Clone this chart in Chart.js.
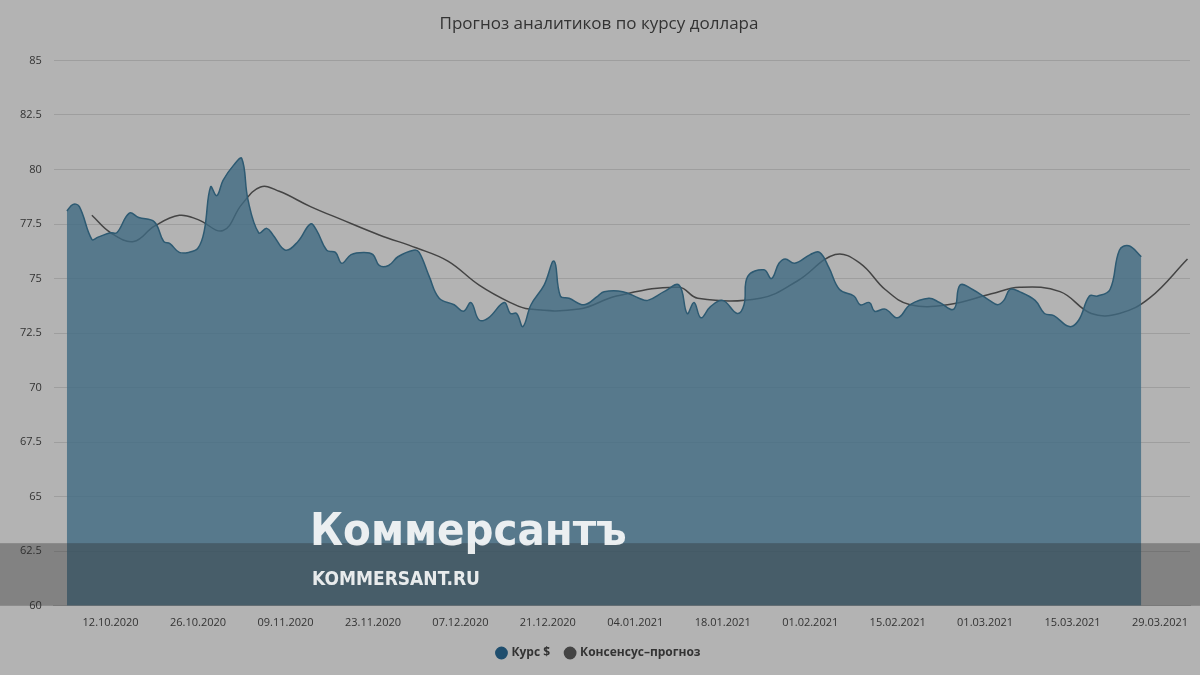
<!DOCTYPE html>
<html><head><meta charset="utf-8">
<script src="https://cdn.jsdelivr.net/npm/chart.js@4"></script>
<style>
html,body{margin:0;padding:0;background:#b3b3b3;}
#wrap{width:1200px;height:675px;position:relative;}
</style></head>
<body><div id="wrap"><canvas id="c" width="1200" height="675"></canvas></div>
<script>
// day offsets from 12.10.2020
const startDate = new Date(2020, 9, 12);
const rateDays = [-7,-6,-5,-3,-2,0,1,3,4.5,7,8.5,9.5,11,12.5,14,15,16,17,18,19.7,21,22,23.7,25,26,28,30,32,33,34.6,36,37,38.5,40.5,42,43,44.5,46,48.5,49.4,51,52.6,55,56.5,57.7,59,60.5,63,64,65,66,67.3,69.4,71,72,73.4,75.8,78,79,82,84.6,86,88.6,91,92.3,93.4,94.5,96,98,100.3,101.4,102,104.6,105.8,107,108,109.5,112,113.5,115,116.7,119,120,121.5,122.3,124,126,128,131,132.7,135,136,138,140.7,142,143,144,145.5,148,149.5,151,153.5,155,156.7,158,160,161.5,163,165];
const rateValues = [78.1,78.4,78.3,76.8,76.9,77.1,77.1,78.0,77.8,77.6,76.7,76.6,76.2,76.2,76.4,77.2,79.2,78.8,79.5,80.2,80.5,78.6,77.1,77.3,77.0,76.3,76.7,77.5,77.2,76.3,76.2,75.7,76.1,76.2,76.1,75.6,75.6,76.0,76.3,76.2,75.1,74.1,73.8,73.5,73.9,73.1,73.2,73.9,73.4,73.4,72.8,73.8,74.7,75.8,74.2,74.1,73.8,74.2,74.4,74.4,74.1,74.0,74.4,74.7,73.4,73.9,73.2,73.7,74.0,73.4,73.8,75.1,75.4,75.0,75.7,75.9,75.7,76.1,76.2,75.5,74.5,74.2,73.8,73.9,73.5,73.6,73.2,73.8,74.1,73.9,73.6,74.7,74.5,74.0,73.8,74.0,74.5,74.4,74.0,73.4,73.3,72.8,73.1,74.2,74.2,74.5,76.3,76.5,76.0];
const forecastDays = [-3,0,3.7,7,11,14,18,21,24,27,32,37,43,49,54,59,64,67,75,81,91,94,104,110,116,120,124,128,134,141,145.5,152,157,161.5,166.3,172.4];
const forecastValues = [77.9,77.1,76.7,77.4,77.9,77.7,77.2,78.4,79.2,79.0,78.3,77.7,77.0,76.4,75.8,74.7,73.9,73.6,73.6,74.2,74.6,74.1,74.1,74.9,76.1,75.7,74.5,73.8,73.8,74.3,74.6,74.4,73.4,73.4,74.1,75.9];
const xTicks = [0,14,28,42,56,70,84,98,112,126,140,154,168];
const yTicks = [60,62.5,65,67.5,70,72.5,75,77.5,80,82.5,85];

function fmtDay(d) {
    const dt = new Date(startDate.getTime() + d * 86400000);
    const p = n => String(n).padStart(2, '0');
    return p(dt.getDate()) + '.' + p(dt.getMonth() + 1) + '.' + dt.getFullYear();
}

const watermark = {
    id: 'watermark',
    afterDatasetsDraw(chart) {
        const ctx = chart.ctx, y = chart.scales.y;
        const top = y.getPixelForValue(62.87), bottom = y.getPixelForValue(60);
        ctx.save();
        ctx.fillStyle = 'rgba(40,40,40,0.35)';
        ctx.fillRect(0, top, chart.width, bottom - top);
        ctx.fillStyle = 'rgba(255,255,255,0.88)';
        ctx.font = 'bold 45px "DejaVu Sans Condensed", "DejaVu Sans", sans-serif';
        ctx.textBaseline = 'alphabetic';
        ctx.fillText('Коммерсантъ', 310, 545);
        ctx.font = 'bold 19px "DejaVu Sans Condensed", "Liberation Sans", sans-serif';
        ctx.fillText('KOMMERSANT.RU', 312, 585);
        ctx.restore();
    }
};

new Chart(document.getElementById('c'), {
    type: 'line',
    data: {
        datasets: [
            { label: 'Курс $', data: rateDays.map((d, i) => ({ x: d, y: rateValues[i] })),
              borderColor: '#2d5a72', backgroundColor: 'rgba(62,105,130,0.78)', fill: 'origin',
              borderWidth: 1.5, pointRadius: 0, tension: 0.4 },
            { label: 'Консенсус–прогноз', data: forecastDays.map((d, i) => ({ x: d, y: forecastValues[i] })),
              borderColor: '#444444', backgroundColor: '#444444', fill: false,
              borderWidth: 1.5, pointRadius: 0, tension: 0.4 }
        ]
    },
    options: {
        responsive: false, animation: false,
        layout: { padding: { left: 8, right: 10, top: 0, bottom: 6 } },
        plugins: {
            title: { display: true, text: 'Прогноз аналитиков по курсу доллара', color: '#333',
                     font: { family: '"Open Sans", sans-serif', size: 17, weight: 'normal' }, padding: { top: 14, bottom: 26 } },
            legend: { position: 'bottom', labels: { usePointStyle: true, pointStyle: 'circle', boxWidth: 8, boxHeight: 8,
                      color: '#333', padding: 16, font: { family: '"Open Sans", sans-serif', size: 12, weight: 'bold' },
                      generateLabels: ch => Chart.defaults.plugins.legend.labels.generateLabels(ch).map(l => {
                          l.fillStyle = l.datasetIndex === 0 ? '#1f4e6e' : '#444444';
                          l.strokeStyle = l.fillStyle; return l; }) } },
            tooltip: { enabled: false }
        },
        scales: {
            x: { type: 'linear', min: -9.1, max: 172.8,
                 afterBuildTicks: s => { s.ticks = xTicks.map(v => ({ value: v })); },
                 ticks: { callback: v => fmtDay(v), color: '#333', maxRotation: 0, autoSkip: false, padding: 2,
                          font: { family: '"Open Sans", sans-serif', size: 11 } },
                 grid: { display: false }, border: { color: '#999' } },
            y: { min: 60, max: 85,
                 afterBuildTicks: s => { s.ticks = yTicks.map(v => ({ value: v })); },
                 ticks: { color: '#333', font: { family: '"Open Sans", sans-serif', size: 11 }, padding: 12 },
                 grid: { color: '#9e9e9e', drawTicks: false }, border: { display: false } }
        }
    },
    plugins: [watermark]
});
</script></body></html>
